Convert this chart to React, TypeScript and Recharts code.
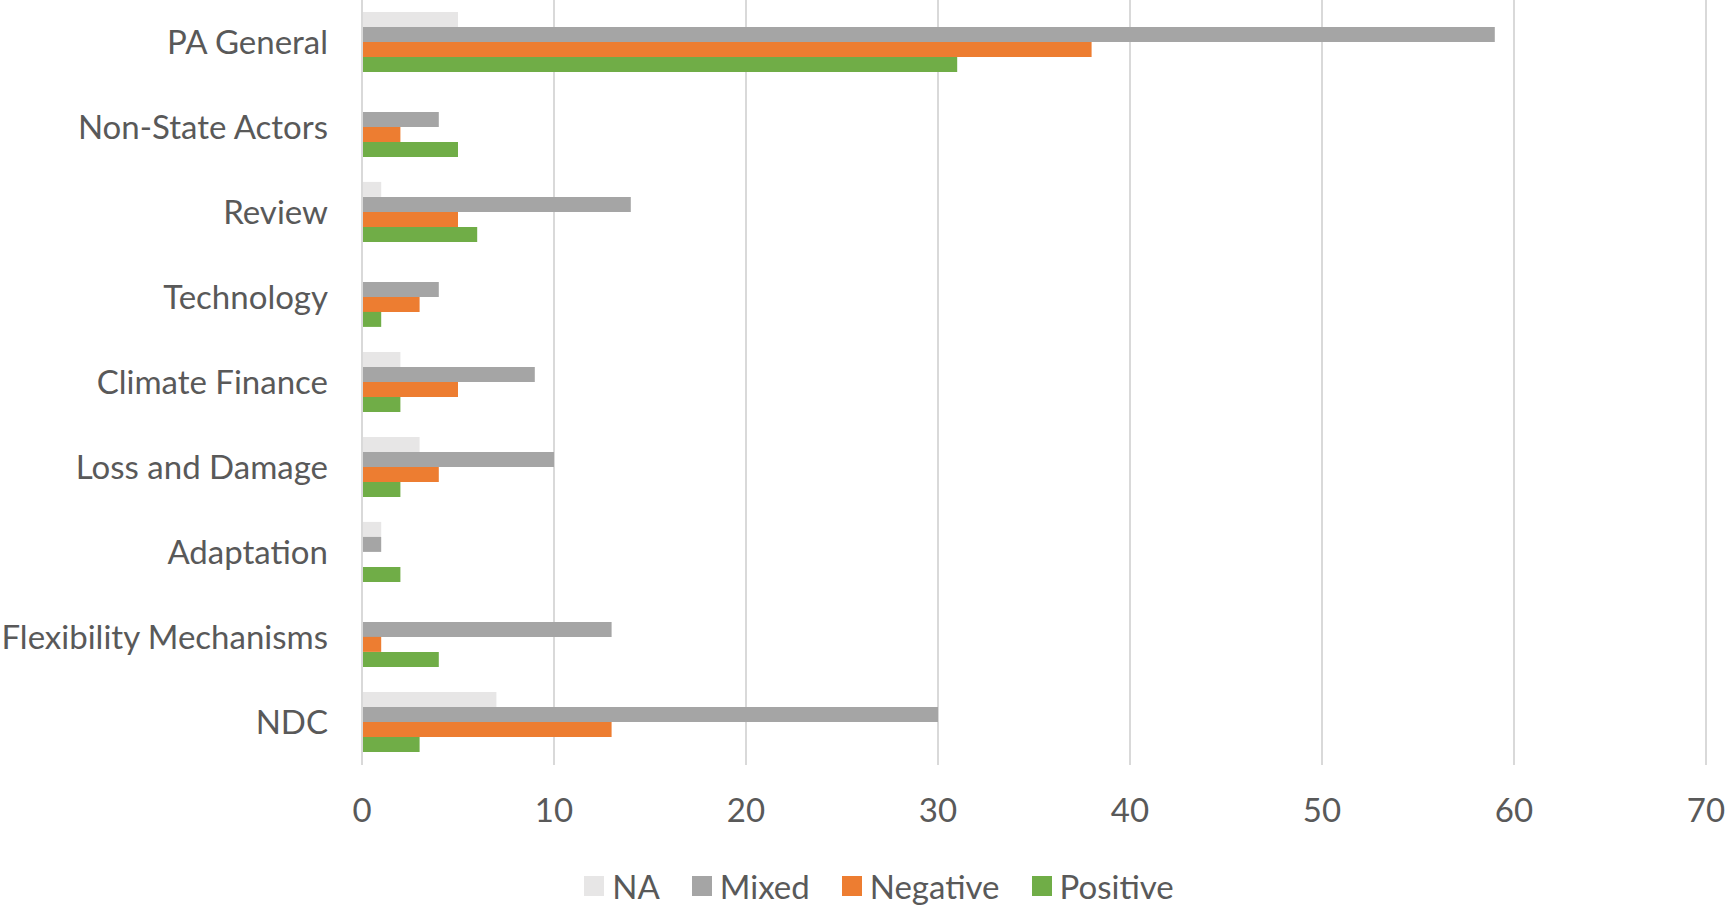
import React from 'react';
import { BarChart, Bar, CartesianGrid, XAxis, YAxis, Legend } from 'recharts';

const topics = [
  'PA General',
  'Non-State Actors',
  'Review',
  'Technology',
  'Climate Finance',
  'Loss and Damage',
  'Adaptation',
  'Flexibility Mechanisms',
  'NDC',
];

const naCounts = [5, 0, 1, 0, 2, 3, 1, 0, 7];
const mixedCounts = [59, 4, 14, 4, 9, 10, 1, 13, 30];
const negativeCounts = [38, 2, 5, 3, 5, 4, 0, 1, 13];
const positiveCounts = [31, 5, 6, 1, 2, 2, 2, 4, 3];

const xTicks = [0, 10, 20, 30, 40, 50, 60, 70];

const seriesList = [
  { key: 'NA', color: '#E7E6E6' },
  { key: 'Mixed', color: '#A5A5A5' },
  { key: 'Negative', color: '#ED7D31' },
  { key: 'Positive', color: '#70AD47' },
];

const data = topics.map((topic, i) => ({
  topic,
  NA: naCounts[i],
  Mixed: mixedCounts[i],
  Negative: negativeCounts[i],
  Positive: positiveCounts[i],
}));

const FONT = 'Lato, "Open Sans", sans-serif';
const TEXT = '#595959';
const GRID = '#D9D9D9';
const FONT_SIZE = 33;

function LegendContent(): JSX.Element {
  return (
    <div
      style={{
        height: 40,
        display: 'flex',
        justifyContent: 'center',
        alignItems: 'center',
        fontFamily: FONT,
        fontSize: FONT_SIZE,
        color: TEXT,
        gap: 32,
        paddingLeft: 52,
      }}
    >
      {seriesList.map((s) => (
        <div key={s.key} style={{ display: 'flex', alignItems: 'center', gap: 8 }}>
          <span style={{ width: 20, height: 20, background: s.color, display: 'inline-block' }} />
          <span>{s.key}</span>
        </div>
      ))}
    </div>
  );
}

export default function App(): JSX.Element {
  return (
    <div style={{ width: 1725, height: 906, background: '#fff' }}>
      <style>{'body{margin:0;}'}</style>
      <BarChart
        width={1725}
        height={906}
        data={data}
        layout="vertical"
        margin={{ top: 0, right: 19, bottom: 0, left: 0 }}
        barCategoryGap="14%"
        barGap={0}
      >
        <CartesianGrid stroke={GRID} strokeWidth={2} horizontal={false} />
        <XAxis
          type="number"
          domain={[0, 70]}
          ticks={xTicks}
          axisLine={false}
          tickLine={false}
          tickSize={0}
          tickMargin={34}
          height={101}
          tick={{ fill: TEXT, fontSize: FONT_SIZE, fontFamily: FONT }}
        />
        <YAxis
          type="category"
          dataKey="topic"
          width={362}
          axisLine={{ stroke: GRID, strokeWidth: 2 }}
          tickLine={false}
          tickSize={0}
          tickMargin={34}
          interval={0}
          tick={{ fill: TEXT, fontSize: FONT_SIZE, fontFamily: FONT }}
        />
        <Legend verticalAlign="bottom" content={<LegendContent />} />
        {seriesList.map((s) => (
          <Bar key={s.key} dataKey={s.key} fill={s.color} isAnimationActive={false} />
        ))}
      </BarChart>
    </div>
  );
}
